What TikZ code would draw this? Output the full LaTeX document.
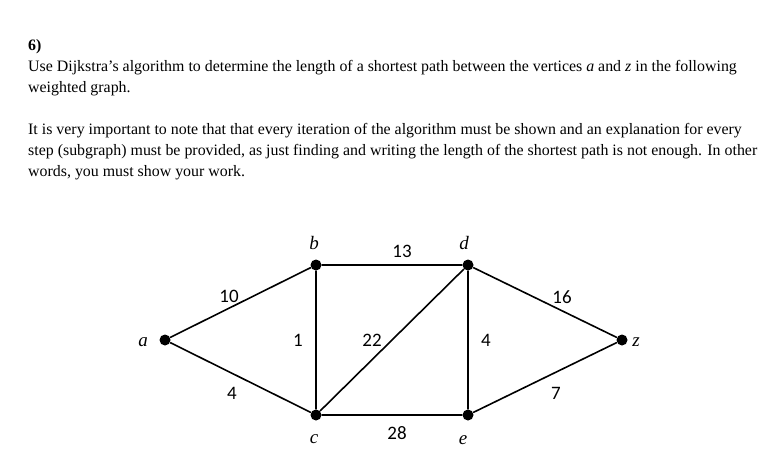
\documentclass[tikz,border=0pt]{standalone}
\usepackage{fontspec}
\setmainfont{Liberation Serif}
\newfontfamily\lblfont{Carlito}
\begin{document}
\begin{tikzpicture}[x=1pt,y=-1pt,
  vtx/.style={circle,fill=black,inner sep=0pt,minimum size=11pt},
  vlab/.style={font=\fontsize{19}{19}\selectfont\itshape},
  elab/.style={font=\lblfont\fontsize{19}{19}\selectfont},
  txt/.style={anchor=base west,inner sep=0pt,font=\fontsize{15.9}{15.9}\selectfont},
  edge/.style={line width=1.6pt}]
\useasboundingbox (0,0) rectangle (783,452);
\node[txt,font=\fontsize{15.9}{15.9}\selectfont\bfseries] (h) at (28,50) {6)};
\node[txt] (l1) at (28,71) {Use Dijkstra’s algorithm to determine the length of a shortest path between the vertices \textit{a} and \textit{z} in the following};
\node[txt] (l2) at (28,92) {weighted graph.};
\node[txt] (l3) at (28,134) {It is very important to note that that every iteration of the algorithm must be shown and an explanation for every};
\node[txt] (l4) at (28,155) {step (subgraph) must be provided, as just finding and writing the length of the shortest path is not enough. In other};
\node[txt] (l5) at (28,176) {words, you must show your work.};
\node[vtx] (a) at (165,340) {};
\node[vtx] (b) at (316,265) {};
\node[vtx] (d) at (468,265) {};
\node[vtx] (z) at (622,340) {};
\node[vtx] (c) at (316,415) {};
\node[vtx] (e) at (468,415) {};
\draw[edge] (a)--(b) (a)--(c) (b)--(d) (b)--(c) (c)--(d) (c)--(e) (d)--(e) (d)--(z) (e)--(z);
\node[vlab] (la) at (143,342) {a};
\node[vlab] (lb) at (314,243) {b};
\node[vlab] (ld) at (464,243) {d};
\node[vlab] (lz) at (636,342) {z};
\node[vlab] (lc) at (314,439) {c};
\node[vlab] (le) at (463,440) {e};
\node[elab] (w1) at (402,251) {13};
\node[elab] (w2) at (229,296) {10};
\node[elab] (w3) at (562,297) {16};
\node[elab] (w4) at (298,340) {1};
\node[elab] (w5) at (372,340) {22};
\node[elab] (w6) at (486,340) {4};
\node[elab] (w7) at (232,393) {4};
\node[elab] (w8) at (556,393) {7};
\node[elab] (w9) at (397,433) {28};
\end{tikzpicture}
\end{document}
